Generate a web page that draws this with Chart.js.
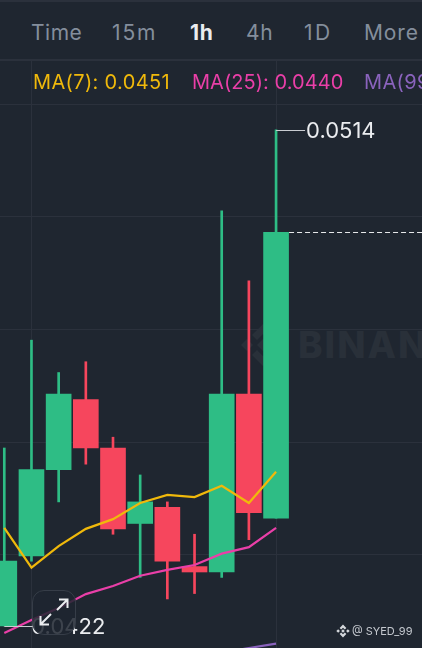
<!DOCTYPE html>
<html><head><meta charset="utf-8">
<script src="https://cdn.jsdelivr.net/npm/chart.js@4"></script>
<style>
html,body{margin:0;padding:0;background:#1f2630;width:422px;height:648px;overflow:hidden;font-family:Inter,"Open Sans",sans-serif}
#wrap{position:relative;width:422px;height:648px;overflow:hidden}
canvas{position:absolute;left:0;top:0;z-index:1}
#tabs{position:absolute;left:0;top:0;width:422px;height:61px;background:#1f2630;border-top:2px solid #2b313c;border-bottom:2px solid #2b313c;box-sizing:border-box;z-index:2}
#tabs span{position:absolute;top:18px;font-size:21px;line-height:26px;letter-spacing:.7px;color:#848e9c;white-space:nowrap}
#tabs span.on{color:#eaecef;font-weight:700}
.ma{position:absolute;top:70px;font-size:20px;line-height:24px;letter-spacing:.35px;white-space:nowrap;z-index:2}
#wm{position:absolute;left:298px;top:325px;font-size:37px;line-height:40px;font-weight:800;letter-spacing:2px;color:#293039;white-space:nowrap;z-index:0}
#wmlogo{position:absolute;left:240px;top:322px;z-index:0}
#btn{position:absolute;left:32px;top:590px;width:44px;height:45px;box-sizing:border-box;border:1.5px solid #363d48;border-radius:12px;background:rgba(31,38,48,.85);z-index:3}
#credit{position:absolute;left:352px;top:623px;font-size:11px;line-height:16px;color:#c4c8ce;white-space:nowrap;z-index:3}
#clogo{position:absolute;left:336px;top:624px;z-index:3}
</style></head><body>
<div id="wrap">
<svg id="wmlogo" width="46" height="46" viewBox="0 0 46 46"><g fill="#293039"><path d="M23 2 34 13 29 18 23 12 17 18 12 13Z"/><path d="M23 44 12 33 17 28 23 34 29 28 34 33Z"/><path d="M1 23 7 17 13 23 7 29Z"/><path d="M33 23 39 17 45 23 39 29Z"/><path d="M23 17 29 23 23 29 17 23Z"/></g></svg>
<div id="wm">BINANCE</div>
<canvas id="c" width="422" height="648"></canvas>
<div id="tabs"></div>
<div id="maRow"></div>
<div id="btn"><svg width="41" height="42" viewBox="0 0 41 42" style="position:absolute;left:0;top:0" fill="none" stroke="#eaecef" stroke-width="2"><path d="M24 19 34 9M26 8.5H34.5V17"/><path d="M18 23 8 33M16 33.5H7.5V25"/></svg></div>
<svg id="clogo" width="14" height="14" viewBox="0 0 46 46"><g fill="#d5d8dc"><path d="M23 2 34 13 29 18 23 12 17 18 12 13Z"/><path d="M23 44 12 33 17 28 23 34 29 28 34 33Z"/><path d="M1 23 7 17 13 23 7 29Z"/><path d="M33 23 39 17 45 23 39 29Z"/><path d="M23 17 29 23 23 29 17 23Z"/></g></svg>
<div id="credit">@ SYED_99</div>
</div>
<script>
const slots = [0,1,2,3,4,5,6,7,8,9,10];
const opens  = [0.0422,0.0435,0.0451,0.0464,0.0455,0.0441,0.0444,0.0433,0.0432,0.0465,0.0442];
const closes = [0.0434,0.0451,0.0465,0.0455,0.0440,0.0445,0.0434,0.0432,0.0465,0.0443,0.0495];
const highs  = [0.0455,0.0475,0.0469,0.0471,0.0457,0.0450,0.0445,0.0439,0.0499,0.0486,0.0514];
const lows   = [0.0422,0.0434,0.0445,0.0452,0.0439,0.0431,0.0427,0.0428,0.0431,0.0438,0.0442];
const ma7  = [0.04402,0.04328,0.04368,0.04400,0.04418,0.04448,0.04463,0.04459,0.04480,0.04448,0.04506];
const ma25 = [0.04207,0.04231,0.04253,0.04279,0.04294,0.04313,0.04324,0.04333,0.04354,0.04366,0.04402];
const ma99 = [null,null,null,null,null,null,null,null,0.04170,0.04179,0.04187];
const gridPrices = [0.05187,0.04979,0.04770,0.04561,0.04353];
const gridSlots = [1,10];
const tabLabels = ["Time","15m","1h","4h","1D","More"];
const tabLefts = [31,112,190,246,304,364];
const tabSpacing = [.5,1.9,.7,.7,2.4,.9];
const maLabels = ["MA(7): 0.0451","MA(25): 0.0440","MA(99): 0.0417"];
const maLefts = [33,192,364];
const maSpacing = [.35,.05,.35];
const maColors = ["#f0b90b","#ea3fa8","#8a63bd"];

const GREEN="#2ebd85", RED="#f6465d";
const tabs=document.getElementById('tabs');
tabLabels.forEach((t,i)=>{const s=document.createElement('span');s.textContent=t;s.style.left=tabLefts[i]+'px';s.style.letterSpacing=tabSpacing[i]+'px';if(t==='1h')s.className='on';tabs.appendChild(s);});
const row=document.getElementById('maRow');
maLabels.forEach((t,i)=>{const s=document.createElement('div');s.className='ma';s.textContent=t;s.style.left=maLefts[i]+'px';s.style.letterSpacing=maSpacing[i]+'px';s.style.color=maColors[i];row.appendChild(s);});

const candleColors=opens.map((o,i)=>closes[i]>=o?GREEN:RED);
const marks={id:'marks',afterDatasetsDraw(ch){
  const c=ch.ctx,x=ch.scales.x,y=ch.scales.y;
  c.save();
  const last=closes.length-1;
  const hiY=Math.round(y.getPixelForValue(highs[last]))+.5, hiX=x.getPixelForValue(last);
  const loY=Math.round(y.getPixelForValue(lows[0]))+.5, loX=x.getPixelForValue(0);
  const cY=Math.round(y.getPixelForValue(closes[last]))+.5;
  c.strokeStyle='#c9ccd1';c.lineWidth=1.2;
  c.beginPath();c.moveTo(hiX,hiY);c.lineTo(hiX+29,hiY);c.moveTo(loX,loY);c.lineTo(loX+30,loY);c.stroke();
  c.fillStyle='#eaecef';c.font='22px Inter';c.textBaseline='middle';c.textAlign='left';
  c.fillText(highs[last].toFixed(4),hiX+30,hiY+1);
  c.fillText(lows[0].toFixed(4),loX+27,loY+1);
  c.strokeStyle='#e6e8ea';c.lineWidth=1;c.setLineDash([5,3]);
  c.beginPath();c.moveTo(hiX+13,cY);c.lineTo(422,cY);c.stroke();
  c.restore();
}};
new Chart(document.getElementById('c'),{
  type:'bar',
  data:{labels:slots,datasets:[
    {type:'line',label:'MA(7)',data:ma7,borderColor:maColors[0],borderWidth:2.2,pointRadius:0,tension:0,order:1},
    {type:'line',label:'MA(25)',data:ma25,borderColor:maColors[1],borderWidth:2.2,pointRadius:0,tension:0,order:1},
    {type:'line',label:'MA(99)',data:ma99,borderColor:maColors[2],borderWidth:2.2,pointRadius:0,tension:0,order:1},
    {label:'body',data:opens.map((o,i)=>[o,closes[i]]),backgroundColor:candleColors,barThickness:25,grouped:false,order:2},
    {label:'wick',data:lows.map((l,i)=>[l,highs[i]]),backgroundColor:candleColors,barThickness:2,grouped:false,order:3}
  ]},
  options:{responsive:false,animation:false,devicePixelRatio:1,
    layout:{padding:0},
    plugins:{legend:{display:false},tooltip:{enabled:false}},
    scales:{
      x:{type:'linear',offset:false,min:-0.158,max:15.37,
        afterBuildTicks(a){a.ticks=gridSlots.map(v=>({value:v}));},
        ticks:{display:false},border:{display:false},grid:{offset:false,color:'#2b313c',lineWidth:1,drawTicks:false}},
      y:{type:'linear',min:0.04179,max:0.05381,
        afterBuildTicks(a){a.ticks=gridPrices.map(v=>({value:v}));},
        ticks:{display:false},border:{display:false},grid:{color:'#2b313c',lineWidth:1,drawTicks:false}}
    }
  },
  plugins:[marks]
});
</script>
</body></html>
